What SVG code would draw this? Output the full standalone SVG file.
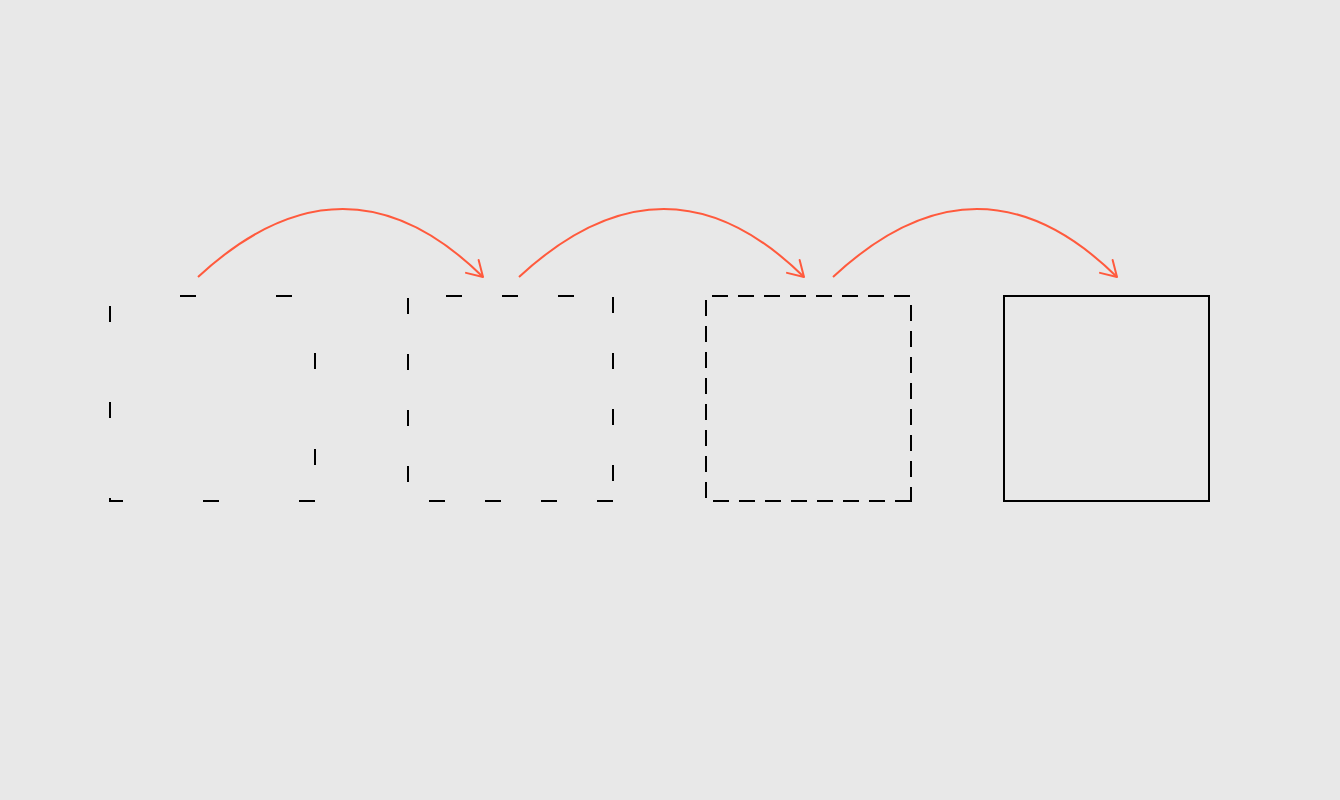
<svg xmlns="http://www.w3.org/2000/svg" width="1340" height="800" viewBox="0 0 1340 800">
  <style>
    .sq { fill: none; stroke: #000; stroke-width: 2; }
    .arc { fill: none; stroke: #ff5a3d; stroke-width: 2; }
  </style>
  <defs>
    <marker id="arrow" markerUnits="userSpaceOnUse" viewBox="-20 -12 24 24" refX="0" refY="0" markerWidth="24" markerHeight="24" orient="auto" overflow="visible">
      <path d="M-15,-9 L0,0 L-15,9" fill="none" stroke="#ff5a3d" stroke-width="2" stroke-linecap="round" stroke-linejoin="round"/>
    </marker>
  </defs>
  <rect x="0" y="0" width="1340" height="800" fill="#e8e8e8"/>
  <g id="square1">
    <path class="sq" d="M315,501 H110 V296 H315 Z" stroke-dasharray="16 80"/>
  </g>
  <g id="square2">
    <path class="sq" d="M613,501 H408 V296 H613 Z" stroke-dasharray="16 40"/>
  </g>
  <g id="square3">
    <path class="sq" d="M911,501 H706 V296 H911 Z" stroke-dasharray="16 10"/>
  </g>
  <g id="square4">
    <path class="sq" d="M1209,501 H1004 V296 H1209 Z"/>
  </g>
  <g id="connectors">
    <path class="arc" d="M198,277 Q345,141 483,277" marker-end="url(#arrow)"/>
    <path class="arc" d="M519,277 Q666,141 804,277" marker-end="url(#arrow)"/>
    <path class="arc" d="M833,277 Q979,141 1117,277" marker-end="url(#arrow)"/>
  </g>
</svg>
